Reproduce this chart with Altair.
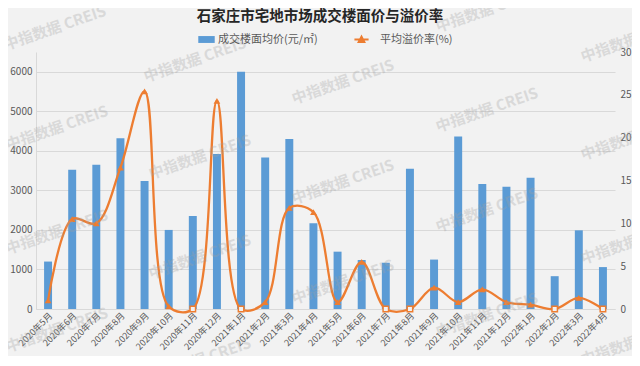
import altair as alt
import pandas as pd

months = ["2020年5月", "2020年6月", "2020年7月", "2020年8月", "2020年9月", "2020年10月",
          "2020年11月", "2020年12月", "2021年1月", "2021年2月", "2021年3月", "2021年4月",
          "2021年5月", "2021年6月", "2021年7月", "2021年8月", "2021年9月", "2021年10月",
          "2021年11月", "2021年12月", "2022年1月", "2022年2月", "2022年3月", "2022年4月"]
price = [1200, 3520, 3650, 4320, 3240, 2000, 2350, 3920, 6000, 3830, 4300, 2170,
         1450, 1240, 1170, 3550, 1250, 4360, 3160, 3090, 3320, 830, 1990, 1060]
rate = [1.0, 10.5, 10.0, 16.5, 25.4, 0.3, 0, 24.3, 0, 0.8, 11.8, 11.3,
        0.8, 5.5, 0, 0, 2.5, 0.8, 2.3, 0.8, 0.5, 0, 1.3, 0]

bar_name = "成交楼面均价(元/㎡)"
line_name = "平均溢价率(%)"
title_text = "石家庄市宅地市场成交楼面价与溢价率"
watermark = "中指数据 CREIS"

df = pd.DataFrame({"month": months, "price": price, "rate": rate,
                   "bar_label": bar_name, "line_label": line_name})

FONT = "Noto Sans CJK SC"
BLUE = "#5B9BD5"
ORANGE = "#ED7D31"
BG = "#f2f2f2"
LBL = "#595959"
PL, PT = 28, 44  # plot origin offsets inside the chart
W, H = 579, 257
TOTAL_H = 348

x_enc = alt.X("month:N", sort=months, title=None,
              scale=alt.Scale(paddingInner=0.67, paddingOuter=0.335),
              axis=alt.Axis(labelAngle=315, labelFontSize=9, labelColor=LBL, labelFont=FONT,
                            ticks=False, domainColor="#d9d9d9", labelPadding=2,
                            labelOverlap=False))

bars = alt.Chart(df).mark_bar(color=BLUE).encode(
    x=x_enc,
    y=alt.Y("price:Q", title=None,
            scale=alt.Scale(domain=[0, 6500], nice=False),
            axis=alt.Axis(values=[0, 1000, 2000, 3000, 4000, 5000, 6000], format="d",
                          ticks=False, labelFontSize=10, labelColor=LBL, labelFont=FONT,
                          labelPadding=4, gridColor="#d9d9d9", domainColor="#d9d9d9")),
    color=alt.Color("bar_label:N", scale=alt.Scale(domain=[bar_name], range=[BLUE]),
                    legend=alt.Legend(title=None, orient="none", legendX=162, legendY=-21,
                                      symbolType="M-1,-0.42H1V0.42H-1Z", symbolSize=270,
                                      symbolStrokeWidth=0, labelFontSize=11, labelColor=LBL,
                                      labelFont=FONT, labelOffset=3, padding=0)),
)

y_rate = alt.Y("rate:Q", title=None,
               scale=alt.Scale(domain=[0, 30], nice=False),
               axis=alt.Axis(orient="right", values=[0, 5, 10, 15, 20, 25, 30], ticks=False,
                             domain=False, grid=False, labelFontSize=10, labelColor=LBL,
                             labelFont=FONT, labelPadding=5))

line = alt.Chart(df).mark_line(strokeWidth=2.3, interpolate="catmull-rom").encode(
    x=alt.X("month:N", sort=months),
    y=y_rate,
    stroke=alt.Stroke("line_label:N", scale=alt.Scale(domain=[line_name], range=[ORANGE]),
                      legend=alt.Legend(title=None, orient="none", legendX=317, legendY=-21,
                                        symbolType="M-1,0H1M-0.4,0.35L0,-0.4L0.4,0.35Z",
                                        symbolSize=200, symbolStrokeWidth=2,
                                        symbolFillColor=ORANGE, labelFontSize=11,
                                        labelColor=LBL, labelFont=FONT, labelOffset=10,
                                        padding=0)),
)

tri = alt.Chart(df).mark_point(shape="triangle-up", filled=True, size=45, color=ORANGE,
                               opacity=1).encode(
    x=alt.X("month:N", sort=months), y=y_rate
).transform_filter(alt.datum.rate > 0)

sq = alt.Chart(df).mark_point(shape="square", filled=False, size=30, color=ORANGE,
                              fill=BG, fillOpacity=1, strokeWidth=1.5, opacity=1).encode(
    x=alt.X("month:N", sort=months), y=y_rate
).transform_filter(alt.datum.rate == 0)

rate_layer = alt.layer(line, tri, sq)

one = alt.Data(values=[{"k": 1}])

title_mark = alt.Chart(one).mark_text(text=title_text, font=FONT, fontSize=14.5, fontWeight="bold",
                                      color="#262626", align="center", baseline="middle").encode(
    x=alt.value(320 - 8 - PL), y=alt.value(17 - 8 - PT))

wm_layers = []
for (px, py) in [(55, 28), (57, 128), (57, 232), (57, 330),
                 (195, 60), (200, 157), (200, 257), (200, 360),
                 (343, 82), (343, 182), (343, 282),
                 (487, 10), (487, 110), (487, 210), (487, 315),
                 (632, 40), (632, 138), (632, 242), (632, 343)]:
    wm_layers.append(
        alt.Chart(one).mark_text(text=watermark, font=FONT, fontSize=15, fontWeight="bold",
                                 color="#a0a0a0", opacity=0.3, angle=341,
                                 align="center", baseline="middle").encode(
            x=alt.value(px - 8 - PL), y=alt.value(py - 8 - PT)))

chart = alt.layer(bars, rate_layer, *wm_layers, title_mark).resolve_scale(
    y="independent"
).properties(
    width=W, height=H,
    padding={"left": PL, "top": PT, "right": 624 - PL - W, "bottom": TOTAL_H - PT - H},
    autosize="none",
    background=BG,
).configure_view(strokeWidth=0)

chart.save("out.html", embed_options={"renderer": "svg", "actions": False})
